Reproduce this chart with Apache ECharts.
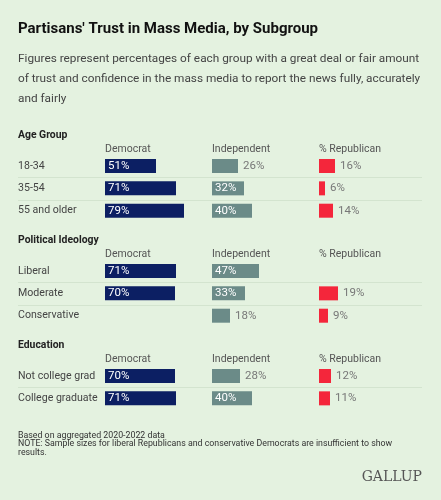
<!DOCTYPE html>
<html lang="en">
<head>
<meta charset="UTF-8">
<title>Partisans' Trust in Mass Media, by Subgroup</title>
<script src="https://cdn.jsdelivr.net/npm/echarts@6/dist/echarts.min.js"></script>
<style>
  html, body { margin: 0; padding: 0; background: #e4f2e0; }
  #chart { width: 441px; height: 500px; }
</style>
</head>
<body>
<div id="chart"></div>
<script type="text/javascript">
// data
var sectionNames = ['Age Group', 'Political Ideology', 'Education'];
var parties = ['Democrat', 'Independent', '% Republican'];

var ageRows = ['18-34', '35-54', '55 and older'];
var ageDem = [51, 71, 79];
var ageInd = [26, 32, 40];
var ageRep = [16, 6, 14];

var ideoRows = ['Liberal', 'Moderate', 'Conservative'];
var ideoDem = [71, 70, null];
var ideoInd = [47, 33, 18];
var ideoRep = [null, 19, 9];

var eduRows = ['Not college grad', 'College graduate'];
var eduDem = [70, 71];
var eduInd = [28, 40];
var eduRep = [12, 11];

var sections = [
    { name: sectionNames[0], rows: ageRows, vals: [ageDem, ageInd, ageRep] },
    { name: sectionNames[1], rows: ideoRows, vals: [ideoDem, ideoInd, ideoRep] },
    { name: sectionNames[2], rows: eduRows, vals: [eduDem, eduInd, eduRep] }
];

// layout
var FONT = 'Roboto, "Noto Sans", sans-serif';
var colors = ['#0c1f63', '#6b8b88', '#f4263b'];
var colLeft = [105, 212, 319];
var rowCenter0 = [166, 271, 376];   // first row centre of each section
var step = 22.35;

var chart = echarts.init(document.getElementById('chart'));

var grids = [], xAxes = [], yAxes = [], series = [], graphics = [];

graphics.push({ type: 'text', left: 18, top: 22,
    style: { text: "Partisans' Trust in Mass Media, by Subgroup", font: 'bold 15px ' + FONT, fill: '#111' } });
graphics.push({ type: 'text', left: 18, top: 49,
    style: { text: 'Figures represent percentages of each group with a great deal or fair amount\nof trust and confidence in the mass media to report the news fully, accurately\nand fairly',
        font: '11.8px ' + FONT, fill: '#444', lineHeight: 20 } });

sections.forEach(function (sec, s) {
    var top = rowCenter0[s] - step / 2;
    var n = sec.rows.length;

    graphics.push({ type: 'text', left: 18, top: rowCenter0[s] - 36,
        style: { text: sec.name, font: 'bold 10.4px ' + FONT, fill: '#222' } });

    // separators between rows
    for (var r = 1; r < n; r++) {
        var yy = Math.round(top + r * step) + 0.5;
        graphics.push({ type: 'line', shape: { x1: 18, y1: yy, x2: 422, y2: yy },
            style: { stroke: '#d3e4cf', lineWidth: 1 }, z: 0 });
    }

    sec.vals.forEach(function (vals, c) {
        var idx = grids.length;
        graphics.push({ type: 'text', left: colLeft[c], top: rowCenter0[s] - 22,
            style: { text: parties[c], font: '10.5px ' + FONT, fill: '#555' } });

        grids.push({ left: colLeft[c], top: top, width: 100, height: n * step });
        xAxes.push({ type: 'value', gridIndex: idx, min: 0, max: 100, show: false });
        yAxes.push({
            type: 'category', gridIndex: idx, data: sec.rows, inverse: true,
            axisLine: { show: false }, axisTick: { show: false }, splitLine: { show: false },
            axisLabel: c === 0 ? { show: true, align: 'left', margin: colLeft[0] - 18,
                fontFamily: FONT, fontSize: 10.6, color: '#444' } : { show: false }
        });

        var data = vals.map(function (v) {
            if (v === null) return '-';
            var inside = c === 0 || (c === 1 && v >= 30);
            return {
                value: v,
                label: {
                    position: inside ? 'insideLeft' : 'right',
                    distance: inside ? 3 : 5,
                    color: inside ? '#fff' : '#777'
                }
            };
        });

        series.push({
            type: 'bar', name: parties[c], xAxisIndex: idx, yAxisIndex: idx,
            data: data, barWidth: 14, silent: true,
            itemStyle: { color: colors[c] },
            label: { show: true, formatter: '{c}%', fontFamily: FONT, fontSize: 11.5 }
        });
    });
});

graphics.push({ type: 'text', left: 18, top: 431,
    style: { text: 'Based on aggregated 2020-2022 data\nNOTE: Sample sizes for liberal Republicans and conservative Democrats are insufficient to show\nresults.',
        font: '8.8px ' + FONT, fill: '#333', lineHeight: 8.8 } });
graphics.push({ type: 'text', right: 19, top: 470,
    style: { text: 'GALLUP', font: '14px "DejaVu Serif", serif', fill: '#555' } });

var option = {
    backgroundColor: '#e4f2e0',
    animation: false,
    grid: grids,
    xAxis: xAxes,
    yAxis: yAxes,
    series: series,
    graphic: graphics
};
chart.setOption(option);
</script>
</body>
</html>
